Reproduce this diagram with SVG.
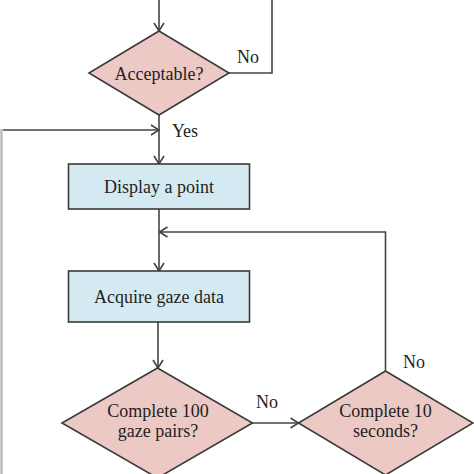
<svg xmlns="http://www.w3.org/2000/svg" width="474" height="474" viewBox="0 0 474 474">
<defs>
<style>
.dia{fill:#ecc9c5;stroke:#3a3a3a;stroke-width:1.6}
.box{fill:#d4eaf2;stroke:#3a3a3a;stroke-width:1.6}
.ln{fill:none;stroke:#444;stroke-width:1.6}
.t{font-family:"Liberation Serif","DejaVu Serif",serif;font-size:18px;fill:#231f20;text-anchor:middle}
</style>
<marker id="ah" viewBox="0 0 10 12" refX="9" refY="6" markerWidth="10" markerHeight="12" markerUnits="userSpaceOnUse" orient="auto">
<path d="M1,1 L9,6 L1,11" fill="none" stroke="#444" stroke-width="1.6"/>
</marker>
</defs>
<rect width="474" height="474" fill="#fff"/>
<g id="connectors">
<line class="ln" x1="159" y1="0" x2="159" y2="31" marker-end="url(#ah)"/>
<polyline class="ln" points="229,73 272,73 272,0"/>
<line class="ln" x1="159" y1="115" x2="159" y2="164" marker-end="url(#ah)"/>
<polyline class="ln" points="3,130 159,130" marker-end="url(#ah)"/>
<line x1="1.5" y1="129" x2="1.5" y2="474" stroke="#bdbdbd" stroke-width="2.5"/>
<line class="ln" x1="159" y1="209" x2="159" y2="271" marker-end="url(#ah)"/>
<polyline class="ln" points="385.5,371 385.5,232 159.5,232" marker-end="url(#ah)"/>
<line class="ln" x1="158" y1="322" x2="158" y2="368" marker-end="url(#ah)"/>
<line class="ln" x1="252.5" y1="423" x2="298.5" y2="423" marker-end="url(#ah)"/>
<text class="t" x="248" y="63">No</text>
<text class="t" x="185" y="136.5">Yes</text>
<text class="t" x="267" y="408">No</text>
<text class="t" x="414" y="368">No</text>
</g>
<g id="acceptable">
<polygon class="dia" points="159,31 229,73 159,115 89,73"/>
<text class="t" x="159" y="79.5">Acceptable?</text>
</g>
<g id="display">
<rect class="box" x="68.5" y="164" width="181" height="45"/>
<text class="t" x="159" y="192.5">Display a point</text>
</g>
<g id="acquire">
<rect class="box" x="68.5" y="271" width="181" height="51"/>
<text class="t" x="159" y="302.5">Acquire gaze data</text>
</g>
<g id="complete100">
<polygon class="dia" points="157.5,368 252.5,423 157.5,478 62,423"/>
<text class="t" x="158" y="417">Complete 100</text>
<text class="t" x="158" y="437">gaze pairs?</text>
</g>
<g id="complete10">
<polygon class="dia" points="385.5,371 473,423 385.5,475 298.5,423"/>
<text class="t" x="385.5" y="417">Complete 10</text>
<text class="t" x="385.5" y="437">seconds?</text>
</g>
</svg>
